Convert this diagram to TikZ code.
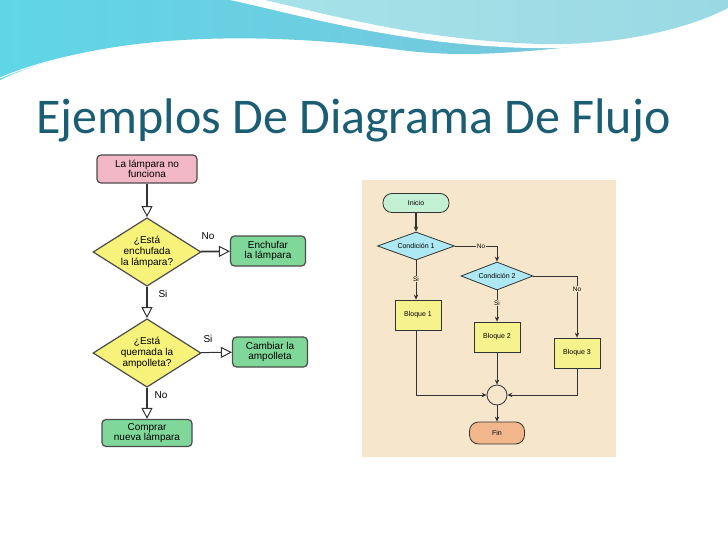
\documentclass[tikz,border=0pt]{standalone}
\usepackage{fontspec}
\setmainfont{Liberation Sans}
\newfontfamily\titlefont{Carlito}
\usetikzlibrary{arrows.meta,shapes.geometric}
\definecolor{titlec}{HTML}{1B5E74}
\definecolor{waveA}{HTML}{7EC3DA}
\definecolor{waveB}{HTML}{5FD6E6}
\definecolor{waveC}{HTML}{A6E2E8}
\definecolor{pinkc}{HTML}{F2B8C6}
\definecolor{yelc}{HTML}{F7F27A}
\definecolor{greenc}{HTML}{7FD89A}
\definecolor{beige}{HTML}{F6E7CC}
\definecolor{lgreen}{HTML}{C4F0D4}
\definecolor{lblue}{HTML}{AEE8F2}
\definecolor{byel}{HTML}{F6F28E}
\definecolor{orc}{HTML}{F2B68C}
\tikzset{
 lbox/.style={draw=black!70,line width=1.2pt,rounded corners=4pt,minimum width=96pt,minimum height=28pt,align=center,font=\fontsize{10}{10.5}\selectfont},
 ldia/.style={diamond,draw=black!70,line width=1.2pt,fill=yelc,aspect=1.55,inner sep=1pt,minimum width=108pt,minimum height=68pt,align=center,font=\fontsize{10}{11}\selectfont},
 larr/.style={line width=1.8pt,draw=black!80,-{Triangle[open,length=11pt,width=11pt,line width=1pt]}},
 lab/.style={font=\fontsize{10}{10}\selectfont},
 rbox/.style={draw=black!80,line width=0.8pt,fill=byel,minimum width=46pt,minimum height=30pt,font=\fontsize{7}{7}\selectfont},
 rdia/.style={diamond,draw=black!80,line width=0.8pt,fill=lblue,aspect=2.7,inner sep=0.5pt,font=\fontsize{7}{7}\selectfont},
 rarr/.style={line width=1pt,draw=black!80,-{Stealth[length=5pt,width=4.5pt]}},
 rlab/.style={font=\fontsize{6.5}{6.5}\selectfont,fill=beige,inner sep=0.5pt},
}
\begin{document}
\begin{tikzpicture}[x=1pt,y=-1pt]
\useasboundingbox (0,0) rectangle (728,546);
\fill[white] (0,0) rectangle (728,546);
% header waves
\shade[left color=waveB,right color=waveA] (0,0) -- (0,80) .. controls (80,42) and (200,32) .. (330,42) .. controls (400,48) and (420,57) .. (500,53) .. controls (600,47) and (680,32) .. (728,12) -- (728,0) -- cycle;
\fill[white] (230,0) .. controls (300,15) and (400,45) .. (530,48) .. controls (620,50) and (690,30) .. (728,14) -- (728,0) -- cycle;
\shade[left color=waveC,right color=waveC!70!waveA] (265,0) .. controls (330,15) and (420,40) .. (540,44) .. controls (620,46) and (690,28) .. (728,8) -- (728,0) -- cycle;
\draw[white,line width=1pt] (0,78) .. controls (80,44) and (200,34) .. (330,44) .. controls (400,50) and (420,58) .. (500,55) .. controls (600,49) and (680,34) .. (728,14);
\node[anchor=base west,inner sep=0,text=titlec,font=\titlefont\fontsize{50}{50}\selectfont] (title) at (36,133) {Ejemplos De Diagrama De Flujo};
% left panel
\fill[white] (88,150) rectangle (312,455);
\node[lbox,fill=pinkc,minimum width=100pt] (a) at (147,169) {La lámpara no\\funciona};
\node[ldia] (d1) at (147,252) {¿Está\\enchufada\\la lámpara?};
\node[lbox,fill=greenc,minimum width=75pt,minimum height=30pt] (e) at (268,251) {Enchufar\\la lámpara};
\node[ldia] (d2) at (147,353) {¿Está\\quemada la\\ampolleta?};
\node[lbox,fill=greenc,minimum width=75pt,minimum height=30pt] (c) at (270,352) {Cambiar la\\ampolleta};
\node[lbox,fill=greenc,minimum width=90pt,minimum height=27pt] (f) at (147,433) {Comprar\\nueva lámpara};
\draw[larr] (a) -- (d1);
\draw[larr] (d1) -- (e);
\draw[larr] (d1) -- (d2);
\draw[larr,line width=1pt] (d2) -- (c);
\draw[larr] (d2) -- (f);
\node[lab] (l1) at (208,236) {No};
\node[lab] (l2) at (163,294) {Si};
\node[lab] (l3) at (208,339) {Si};
\node[lab] (l4) at (161,395) {No};
% right panel
\fill[beige] (362,180) rectangle (616,457);
\node[draw=black!80,line width=0.8pt,fill=lgreen,rounded corners=9pt,minimum width=66pt,minimum height=19pt,font=\fontsize{7}{7}\selectfont] (ini) at (416,203) {Inicio};
\node[rdia,minimum width=77pt,minimum height=28pt] (c1) at (416,246) {Condición 1};
\node[rdia,minimum width=72pt,minimum height=28pt] (c2) at (497,276) {Condición 2};
\node[rbox] (b1) at (418,315) {Bloque 1};
\node[rbox] (b2) at (497,337) {Bloque 2};
\node[rbox] (b3) at (577,353) {Bloque 3};
\node[circle,draw=black!80,line width=0.8pt,fill=beige,minimum size=20pt,inner sep=0] (j) at (497,395) {};
\node[draw=black!80,line width=0.8pt,fill=orc,rounded corners=9pt,minimum width=55pt,minimum height=22pt,font=\fontsize{7}{7}\selectfont] (fin) at (497,433) {Fin};
\draw[rarr,line width=1.5pt] (ini) -- (c1);
\draw[rarr] (c1.east) -| (c2.north);
\draw[rarr] (c1) -- (c1 |- b1.north);
\draw[rarr] (c2) -- (b2);
\draw[rarr] (c2.east) -| (b3.north);
\draw[rarr] (b1.south -| c1) |- (j.west);
\draw[rarr] (b2) -- (j);
\draw[rarr] (b3.south) |- (j.east);
\draw[rarr] (j) -- (fin);
\node[rlab] (n1) at (481,246) {No};
\node[rlab] (s1) at (416,279) {Si};
\node[rlab] (s2) at (497,303) {Si};
\node[rlab] (n2) at (577,289) {No};
\end{tikzpicture}
\end{document}
